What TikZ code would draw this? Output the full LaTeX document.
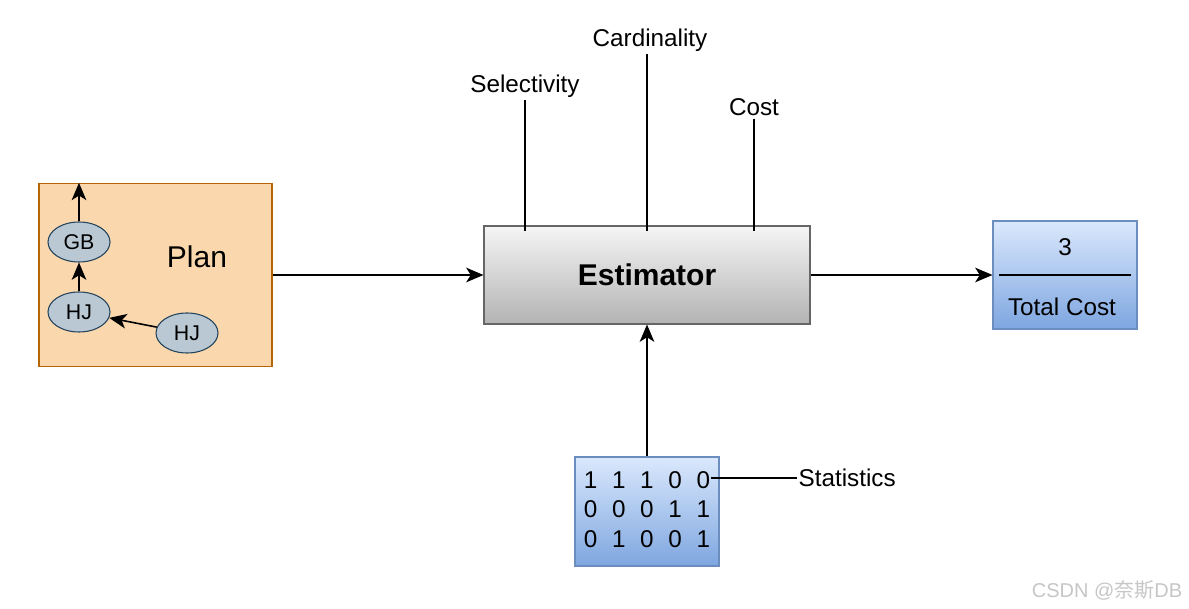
\documentclass[tikz,border=0pt]{standalone}
\usepackage{fontspec}
\setmainfont{Liberation Sans}
\newfontfamily\cjkfont{Noto Sans CJK SC}
\usetikzlibrary{positioning,arrows.meta,calc,shapes.geometric}

\definecolor{planfill}{HTML}{FAD7AC}
\definecolor{plandraw}{HTML}{B46504}
\definecolor{opfill}{HTML}{BAC8D3}
\definecolor{opdraw}{HTML}{23445D}
\definecolor{bluetop}{HTML}{DAE8FC}
\definecolor{bluebot}{HTML}{7EA6E0}
\definecolor{bluedraw}{HTML}{6C8EBF}
\definecolor{greytop}{HTML}{F5F5F5}
\definecolor{greybot}{HTML}{B3B3B3}
\definecolor{greydraw}{HTML}{666666}

\begin{document}
\begin{tikzpicture}[x=0.75pt, y=-0.75pt,
    >={Stealth[length=13pt, width=11pt, inset=3.5pt]},
    font=\fontsize{18.2}{22}\selectfont,
    planbox/.style={draw=plandraw, fill=planfill, line width=1pt, rectangle, inner sep=0pt, minimum width=174.75pt, minimum height=137.25pt},
    op/.style={ellipse, draw=opdraw, fill=opfill, line width=0.8pt, inner sep=0pt, minimum width=46.5pt, minimum height=30pt, font=\fontsize{16}{19}\selectfont},
    estbox/.style={draw=greydraw, line width=0.8pt, top color=greytop, bottom color=greybot, rectangle, inner sep=0pt, minimum width=244.5pt, minimum height=73.5pt, font=\fontsize{22.5}{27}\selectfont\bfseries},
    bluebox/.style={draw=bluedraw, line width=0.8pt, top color=bluetop, bottom color=bluebot, rectangle, inner sep=0pt, minimum width=108pt, minimum height=81pt},
    lbl/.style={inner sep=2pt},
    conn/.style={line width=1.2pt}
]
\useasboundingbox (0,0) rectangle (1189,609);

\node[planbox] (plan) at (155.5,275) {};
\node[font=\fontsize{22.5}{27}\selectfont] (plantxt) at (197,257) {Plan};
\node[op] (gb) at (79,242) {GB};
\node[op] (hj1) at (79,312) {HJ};
\node[op] (hj2) at (187,333) {HJ};

\node[estbox] (est) at (647,275) {Estimator};
\node[bluebox] (tc) at (1065,275) {};
\node (tcval) at (1065,247) {3};
\node (tclbl) at (1062,307) {Total Cost};

\node[bluebox, minimum height=81.75pt] (stats) at (647,511.5) {};
\node (matrix) at (647,512) {\setlength{\tabcolsep}{5.5pt}\begin{tabular}{@{}ccccc@{}}
1 & 1 & 1 & 0 & 0\\
0 & 0 & 0 & 1 & 1\\
0 & 1 & 0 & 0 & 1
\end{tabular}};
\coordinate (rowend) at (711,478);
\node[lbl, anchor=west, inner sep=1pt] (statlbl) at (797,478) {Statistics};

\node[lbl] (sel) at (525,86) {Selectivity};
\node[lbl] (card) at (650,40) {Cardinality};
\node[lbl] (cost) at (754,107) {Cost};

\node[text=gray!45, font=\fontsize{15}{18}\selectfont] (wm) at (1107,590) {CSDN @{\cjkfont 奈斯}DB};

\draw[conn, ->] (gb.north) -- (gb.north |- plan.north);
\draw[conn, ->] (hj1) -- (gb);
\draw[conn, ->] (hj2) -- (hj1);

\draw[conn, ->] (plan.east) -- (est.west);
\draw[conn, ->] (est.east) -- (tc.west);
\draw[conn, ->] (stats.north) -- (est.south);
\draw[line width=0.9pt] ([xshift=5pt]tc.west) -- ([xshift=-5pt]tc.east);
\draw[conn] (rowend) -- (statlbl.west);

\draw[conn] (sel.south) -- ([yshift=-4.5pt]sel.south |- est.north);
\draw[conn] (est.north |- card.south) -- ([yshift=-4.5pt]est.north);
\draw[conn] (cost.south) -- ([yshift=-4.5pt]cost.south |- est.north);

\end{tikzpicture}
\end{document}
